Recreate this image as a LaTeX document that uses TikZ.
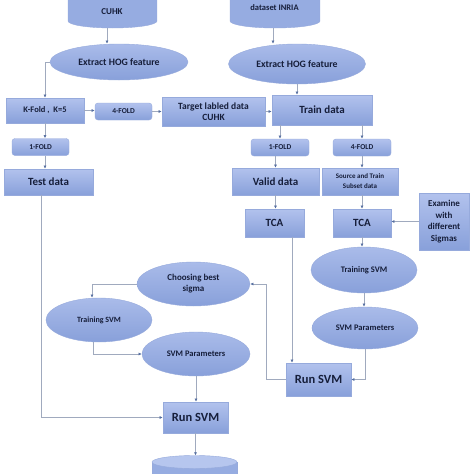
\documentclass[tikz,border=0pt]{standalone}
\usepackage{fontspec}
\setmainfont{Carlito}
\usetikzlibrary{arrows.meta, positioning, shapes.geometric}
\definecolor{flowtop}{RGB}{178,194,237}
\definecolor{flowbot}{RGB}{136,160,218}
\definecolor{flowedge}{RGB}{150,170,220}
\definecolor{flowtext}{RGB}{22,30,58}
\definecolor{flowline}{RGB}{160,170,190}
\definecolor{flowtip}{RGB}{85,110,160}
\definecolor{dbfill}{RGB}{150,172,225}
\definecolor{dbtop}{RGB}{182,198,238}

\begin{document}
\begin{tikzpicture}[x=1pt, y=-1pt,
        box/.style={rectangle, draw=flowedge, top color=flowtop, bottom color=flowbot, text=flowtext, font=\fontsize{8.5}{10}\selectfont\bfseries, align=center, inner sep=1pt},
        fold/.style={box, rounded corners=3pt, minimum width=57pt, minimum height=17pt, font=\fontsize{7.5}{9}\selectfont\bfseries},
        oval/.style={ellipse, draw=flowedge, top color=flowtop!80!flowbot, bottom color=flowbot, text=flowtext, font=\fontsize{8.5}{10.5}\selectfont\bfseries, align=center, inner sep=0pt},
        big/.style={font=\fontsize{11}{12}\selectfont\bfseries},
        arr/.style={-{Latex[length=3.2pt, width=3pt, color=flowtip]}, draw=flowline, semithick}
    ]
        \clip (0,0) rectangle (474,474);
        \fill[white] (0,0) rectangle (474,474);

        % Databases
        \fill[dbfill] (68,-40) rectangle (157,21);
        \fill[dbfill] (112.5,21) ellipse [x radius=44.5, y radius=7];
        \draw[flowedge] (68,-40) -- (68,21) arc[start angle=180, end angle=0, x radius=44.5, y radius=7] -- (157,-40);
        \node[text=flowtext, font=\fontsize{9}{10.5}\selectfont\bfseries] (cuhkdb) at (112,12) {CUHK};
        \coordinate (cuhkout) at (107,28);

        \fill[dbfill] (230,-40) rectangle (320,21);
        \fill[dbfill] (275,21) ellipse [x radius=45, y radius=7];
        \draw[flowedge] (230,-40) -- (230,21) arc[start angle=180, end angle=0, x radius=45, y radius=7] -- (320,-40);
        \node[text=flowtext, font=\fontsize{8.5}{10}\selectfont\bfseries] (inriadb) at (274.5,8) {dataset INRIA};
        \coordinate (inriaout) at (273,28);

        \fill[dbfill] (152,462) rectangle (237,490);
        \draw[flowedge] (152,462) -- (152,490) (237,462) -- (237,490);
        \draw[flowedge, fill=dbtop] (194.5,462) ellipse [x radius=42.5, y radius=6.5];
        \coordinate (resultin) at (195.5,455.5);

        % Feature extraction
        \node[oval, minimum width=138pt, minimum height=36pt, font=\fontsize{9.8}{11}\selectfont\bfseries] (ehogL) at (119,62) {Extract HOG feature};
        \node[oval, minimum width=137pt, minimum height=40pt, font=\fontsize{9.8}{11}\selectfont\bfseries] (ehogR) at (297,64) {Extract HOG feature};

        % Folds
        \node[box, minimum width=78pt, minimum height=25pt] (kfold) at (45,110.5) {K-Fold ,~~K=5};
        \node[fold] (fourL) at (123.5,111.5) {4-FOLD};
        \node[box, minimum width=103pt, minimum height=29pt, font=\fontsize{9.5}{10.5}\selectfont\bfseries] (target) at (213.5,111.5) {Target labled data\\CUHK};
        \node[box, big, minimum width=100pt, minimum height=30pt] (train) at (322,110) {Train data};
        \node[fold] (oneL) at (40.5,147) {1-FOLD};
        \node[box, big, minimum width=89pt, minimum height=26pt] (test) at (48.5,182) {Test data};
        \node[fold, minimum width=58pt] (oneR) at (280,147.5) {1-FOLD};
        \node[fold, minimum width=58pt] (fourR) at (362,147.5) {4-FOLD};
        \node[box, big, minimum width=87pt, minimum height=27pt] (valid) at (275.5,181.5) {Valid data};
        \node[box, minimum width=76pt, minimum height=27pt, font=\fontsize{7}{10}\selectfont\bfseries] (source) at (360,181.5) {Source and Train\\Subset data};

        % TCA
        \node[box, big, minimum width=59pt, minimum height=28pt] (tcaL) at (274.5,223) {TCA};
        \node[box, big, minimum width=58pt, minimum height=28pt] (tcaR) at (362,223) {TCA};
        \node[box, minimum width=50pt, minimum height=57pt, font=\fontsize{9}{11.5}\selectfont\bfseries] (examine) at (444,221.5) {Examine\\with\\different\\Sigmas};

        % SVM
        \node[oval, minimum width=106pt, minimum height=46pt, font=\fontsize{8.5}{10}\selectfont\bfseries] (trainR) at (364,270) {Training SVM};
        \node[oval, minimum width=106pt, minimum height=42pt] (paramR) at (365,328) {SVM Parameters};
        \node[box, font=\fontsize{12.5}{14}\selectfont\bfseries, minimum width=65pt, minimum height=33pt] (runR) at (318.5,379.5) {Run SVM};
        \node[oval, minimum width=113pt, minimum height=44pt, font=\fontsize{9}{11}\selectfont\bfseries] (best) at (193.5,284) {Choosing best\\sigma};
        \node[oval, minimum width=106pt, minimum height=44pt, font=\fontsize{8}{9.5}\selectfont\bfseries] (trainL) at (99,320) {Training SVM};
        \node[oval, minimum width=108pt, minimum height=44pt] (paramL) at (196,354) {SVM Parameters};
        \node[box, font=\fontsize{12.5}{14}\selectfont\bfseries, minimum width=65pt, minimum height=31pt] (runL) at (195.5,417.5) {Run SVM};

        % Connectors
        \draw[arr] (cuhkout) -- (cuhkout |- ehogL.north);
        \draw[arr] (inriaout) -- (inriaout |- ehogR.north);
        \draw[arr] (ehogL.west) -| (kfold.north);
        \draw[arr] (ehogR.south) -- (ehogR.south |- train.north);
        \draw[arr] (kfold.east) -- (kfold.east -| fourL.west);
        \draw[arr] (fourL.east) -- (fourL.east -| target.west);
        \draw[arr] (target.east) -- (target.east -| train.west);
        \draw[arr] (kfold.south) -- (kfold.south |- oneL.north);
        \draw[arr] (kfold.south |- oneL.south) -- (kfold.south |- test.north);
        \draw[arr] (oneR.north |- train.south) -- (oneR.north);
        \draw[arr] (fourR.north |- train.south) -- (fourR.north);
        \draw[arr] (valid.north |- oneR.south) -- (valid.north);
        \draw[arr] (fourR.south) -- (fourR.south |- source.north);
        \draw[arr] (valid.south) -- (valid.south |- tcaL.north);
        \draw[arr] (source.south -| tcaR.north) -- (tcaR.north);
        \draw[arr] (examine.west) -- (examine.west -| tcaR.east);
        \draw[arr] (tcaR.south) -- (tcaR.south |- trainR.north);
        \draw[arr] (trainR.south) -- (trainR.south |- paramR.north);
        \draw[arr] ([xshift=17.5pt]tcaL.south) -- ([xshift=17.5pt]tcaL.south |- runR.north);
        \draw[arr] (paramR.south) |- (runR.east);
        \draw[arr] (runR.west) -- ++(-20,0) |- (best.east);
        \draw[arr] (best.west) -| ([xshift=-7pt]trainL.north);
        \draw[arr] ([xshift=-6pt]trainL.south) |- (paramL.west);
        \draw[arr] (paramL.south) -- (paramL.south |- runL.north);
        \draw[arr] ([xshift=-7.5pt]test.south) |- (runL.west);
        \draw[arr] (runL.south) -- (resultin);
    \end{tikzpicture}
\end{document}
